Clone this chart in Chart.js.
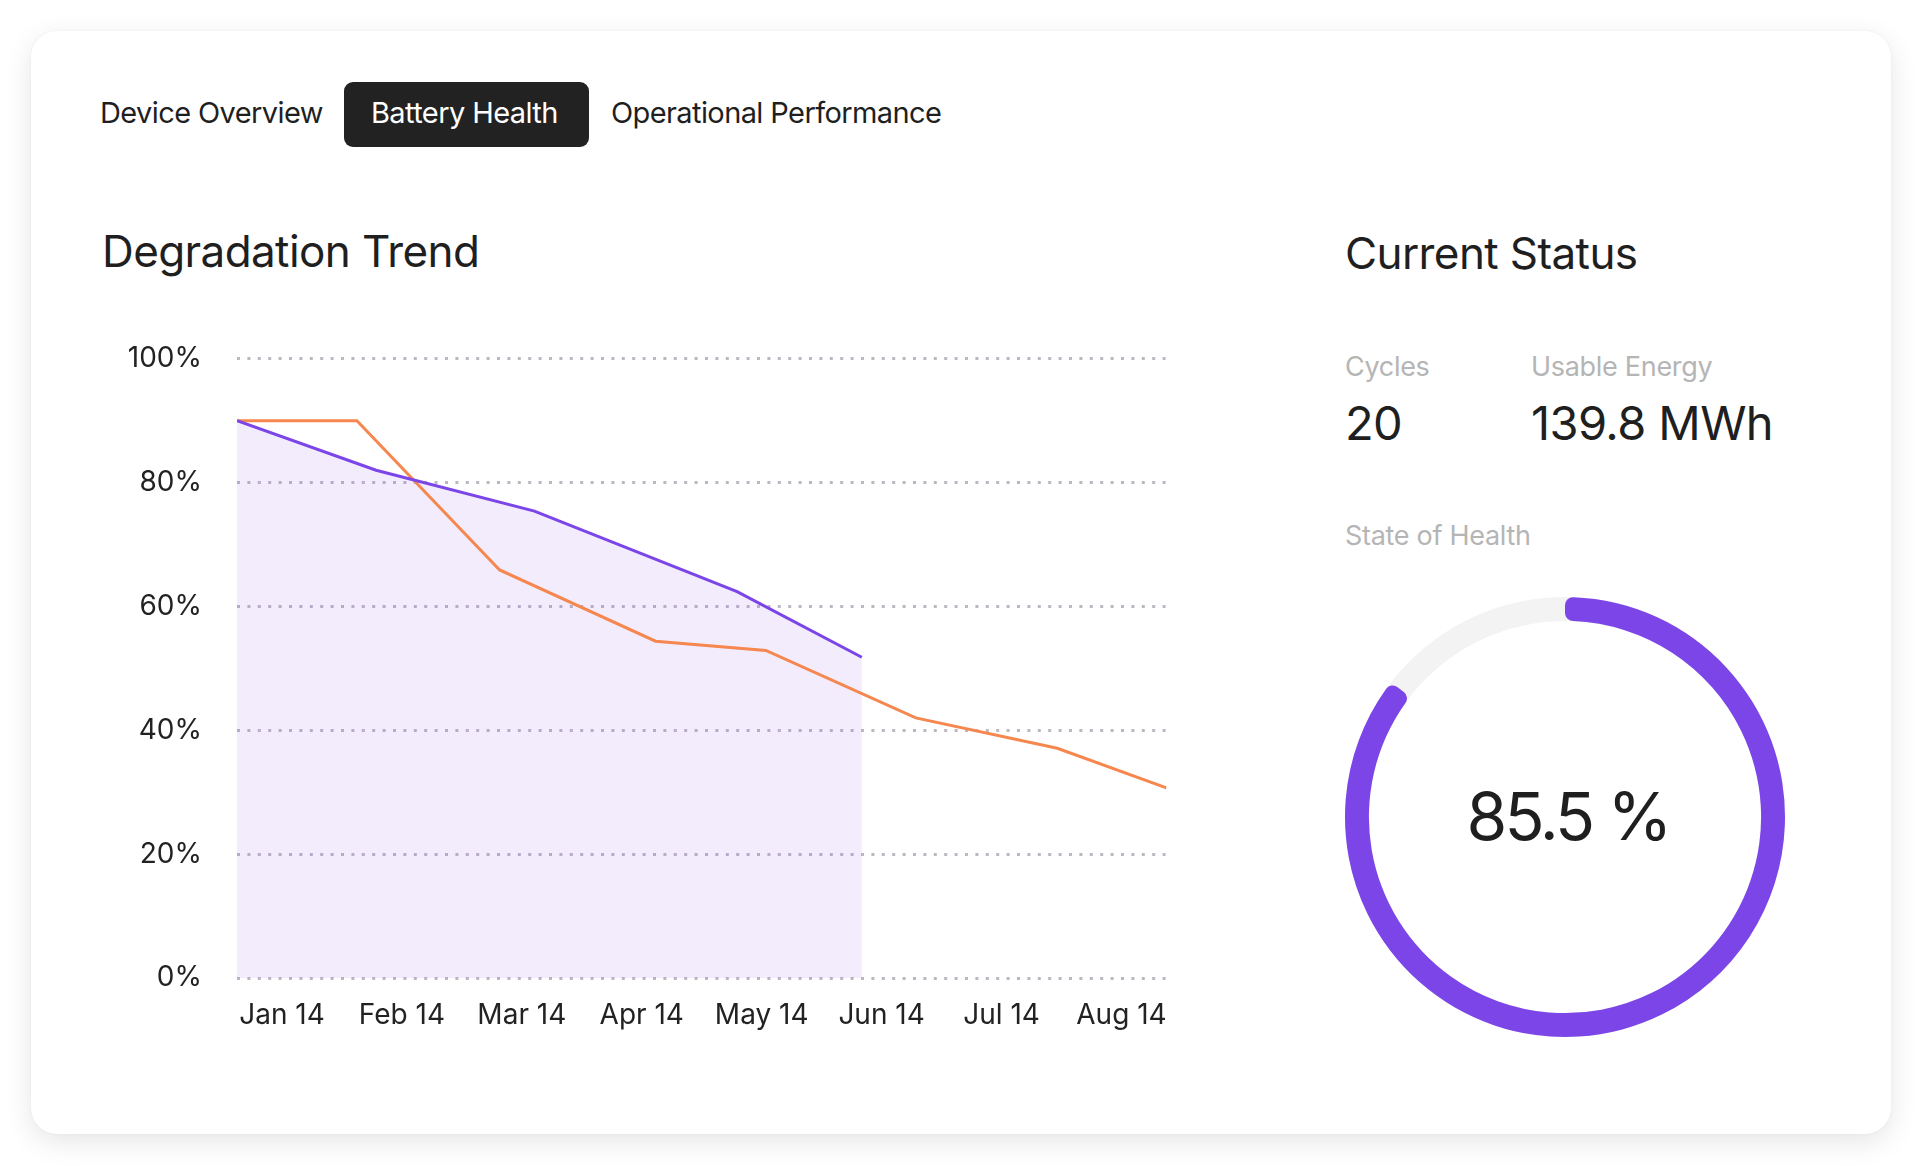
<!DOCTYPE html>
<html>
<head>
<meta charset="utf-8">
<script src="https://cdn.jsdelivr.net/npm/chart.js@4.4.1/dist/chart.umd.min.js"></script>
<style>
  html, body { margin: 0; padding: 0; background: #fff; }
  body { width: 1922px; height: 1166px; position: relative; overflow: hidden; font-family: 'Inter', sans-serif; color: #1f1f1f; }
  .card { position: absolute; left: 31px; top: 31px; width: 1860px; height: 1103px; background: #fff; border-radius: 26px;
          box-shadow: 0 8px 28px rgba(0,0,0,.10), 0 0 3px rgba(0,0,0,.05); }
  .t { position: absolute; line-height: 1; white-space: nowrap; }
  .tab { font-size: 29px; top: 98px; letter-spacing: -0.6px; }
  .pill { position: absolute; left: 344px; top: 82px; width: 245px; height: 65px; background: #222; border-radius: 9px; }
  .h2 { font-size: 44px; letter-spacing: -0.6px; }
  .lbl { font-size: 27px; color: #b5b5b5; letter-spacing: -0.3px; }
  .big { font-size: 47px; letter-spacing: -0.6px; }
  #lineWrap { position: absolute; left: 60px; top: 307px; width: 1120px; height: 753px; }
  #gaugeWrap { position: absolute; left: 1335px; top: 587px; width: 460px; height: 460px; }
  .center { position: absolute; left: 1568px; top: 783px; transform: translateX(-50%); font-size: 66px; line-height: 1; letter-spacing: -3px; white-space: nowrap; }
</style>
</head>
<body>
<div class="card"></div>

<div class="pill"></div>
<div class="t tab" style="left:100px">Device Overview</div>
<div class="t tab" style="left:371px;color:#fff">Battery Health</div>
<div class="t tab" style="left:611px">Operational Performance</div>

<div class="t h2" style="left:102px;top:229px">Degradation Trend</div>
<div class="t h2" style="left:1345px;top:231px">Current Status</div>

<div class="t lbl" style="left:1345px;top:353px">Cycles</div>
<div class="t lbl" style="left:1531px;top:353px">Usable Energy</div>
<div class="t big" style="left:1345px;top:399px">20</div>
<div class="t big" style="left:1531px;top:399px">139.8 MWh</div>
<div class="t lbl" style="left:1345px;top:522px">State of Health</div>

<div id="lineWrap"><canvas id="trendChart"></canvas></div>
<div id="gaugeWrap"><canvas id="gaugeChart"></canvas></div>
<div class="center">85.5 %</div>

<script>
// x in months from the first reading
const measuredX = [0, 1.16, 2.48, 4.17, 5.21];
const measuredY = [90, 82, 75.4, 62.4, 51.8];
const forecastX = [0, 1.0, 2.19, 3.49, 4.41, 5.66, 6.84, 7.75];
const forecastY = [90, 90, 65.9, 54.4, 52.9, 42.0, 37.1, 30.7];
const xTickValues = [0.375, 1.375, 2.375, 3.375, 4.375, 5.375, 6.375, 7.375];
const xTickLabels = ['Jan 14', 'Feb 14', 'Mar 14', 'Apr 14', 'May 14', 'Jun 14', 'Jul 14', 'Aug 14'];
const yTicks = [0, 20, 40, 60, 80, 100];

const healthValue = 85.5;

const PURPLE = '#7c45e8';
const ORANGE = '#f5874f';

Chart.defaults.font.family = 'Inter';
Chart.defaults.color = '#222';

const toPoints = (xs, ys) => xs.map((x, i) => ({ x, y: ys[i] }));

new Chart(document.getElementById('trendChart'), {
  type: 'line',
  data: {
    datasets: [
      {
        label: 'Measured',
        data: toPoints(measuredX, measuredY),
        borderColor: PURPLE,
        backgroundColor: 'rgba(124,69,232,0.1)',
        borderWidth: 3,
        fill: 'origin',
        pointRadius: 0,
        tension: 0
      },
      {
        label: 'Forecast',
        data: toPoints(forecastX, forecastY),
        borderColor: ORANGE,
        borderWidth: 3,
        fill: false,
        pointRadius: 0,
        tension: 0
      }
    ]
  },
  options: {
    responsive: true,
    maintainAspectRatio: false,
    animation: false,
    layout: { padding: { top: 0, right: 7, bottom: 0, left: 0 } },
    plugins: {
      legend: { display: false },
      tooltip: { enabled: false },
      filler: { drawTime: 'beforeDatasetsDraw' }
    },
    scales: {
      x: {
        type: 'linear',
        min: 0,
        max: 7.75,
        grid: { display: false },
        border: { display: false },
        afterBuildTicks: s => { s.ticks = xTickValues.map(v => ({ value: v })); },
        afterFit: s => { s.height = 82; },
        ticks: {
          autoSkip: false,
          maxRotation: 0,
          padding: 13,
          color: '#222',
          font: { size: 28 },
          callback: (v, i) => xTickLabels[i]
        }
      },
      y: {
        min: 0,
        max: 100,
        afterBuildTicks: s => { s.ticks = yTicks.map(v => ({ value: v })); },
        afterFit: s => { s.width = 177; },
        grid: { color: '#bdb7c4', lineWidth: 3, drawTicks: false },
        border: { display: false, dash: [3, 7.4] },
        ticks: {
          padding: 35,
          color: '#222',
          font: { size: 28 },
          callback: v => v + '%'
        }
      }
    }
  }
});

// grey full ring under the value arc
const trackRing = {
  id: 'trackRing',
  beforeDatasetsDraw(chart) {
    const arc = chart.getDatasetMeta(0).data[0];
    if (!arc) return;
    const { ctx } = chart;
    ctx.save();
    ctx.beginPath();
    ctx.arc(arc.x, arc.y, (arc.outerRadius + arc.innerRadius) / 2, 0, Math.PI * 2);
    ctx.lineWidth = arc.outerRadius - arc.innerRadius;
    ctx.strokeStyle = '#f3f3f3';
    ctx.stroke();
    ctx.restore();
  }
};

new Chart(document.getElementById('gaugeChart'), {
  type: 'doughnut',
  data: {
    labels: ['Health', 'Lost'],
    datasets: [{
      data: [healthValue, 100 - healthValue],
      backgroundColor: [PURPLE, 'rgba(0,0,0,0)'],
      borderWidth: 0,
      borderRadius: c => (c.dataIndex === 0 ? 8 : 0)
    }]
  },
  options: {
    responsive: true,
    maintainAspectRatio: false,
    animation: false,
    radius: 220,
    cutout: 205,
    plugins: { legend: { display: false }, tooltip: { enabled: false } }
  },
  plugins: [trackRing]
});
</script>
</body>
</html>
